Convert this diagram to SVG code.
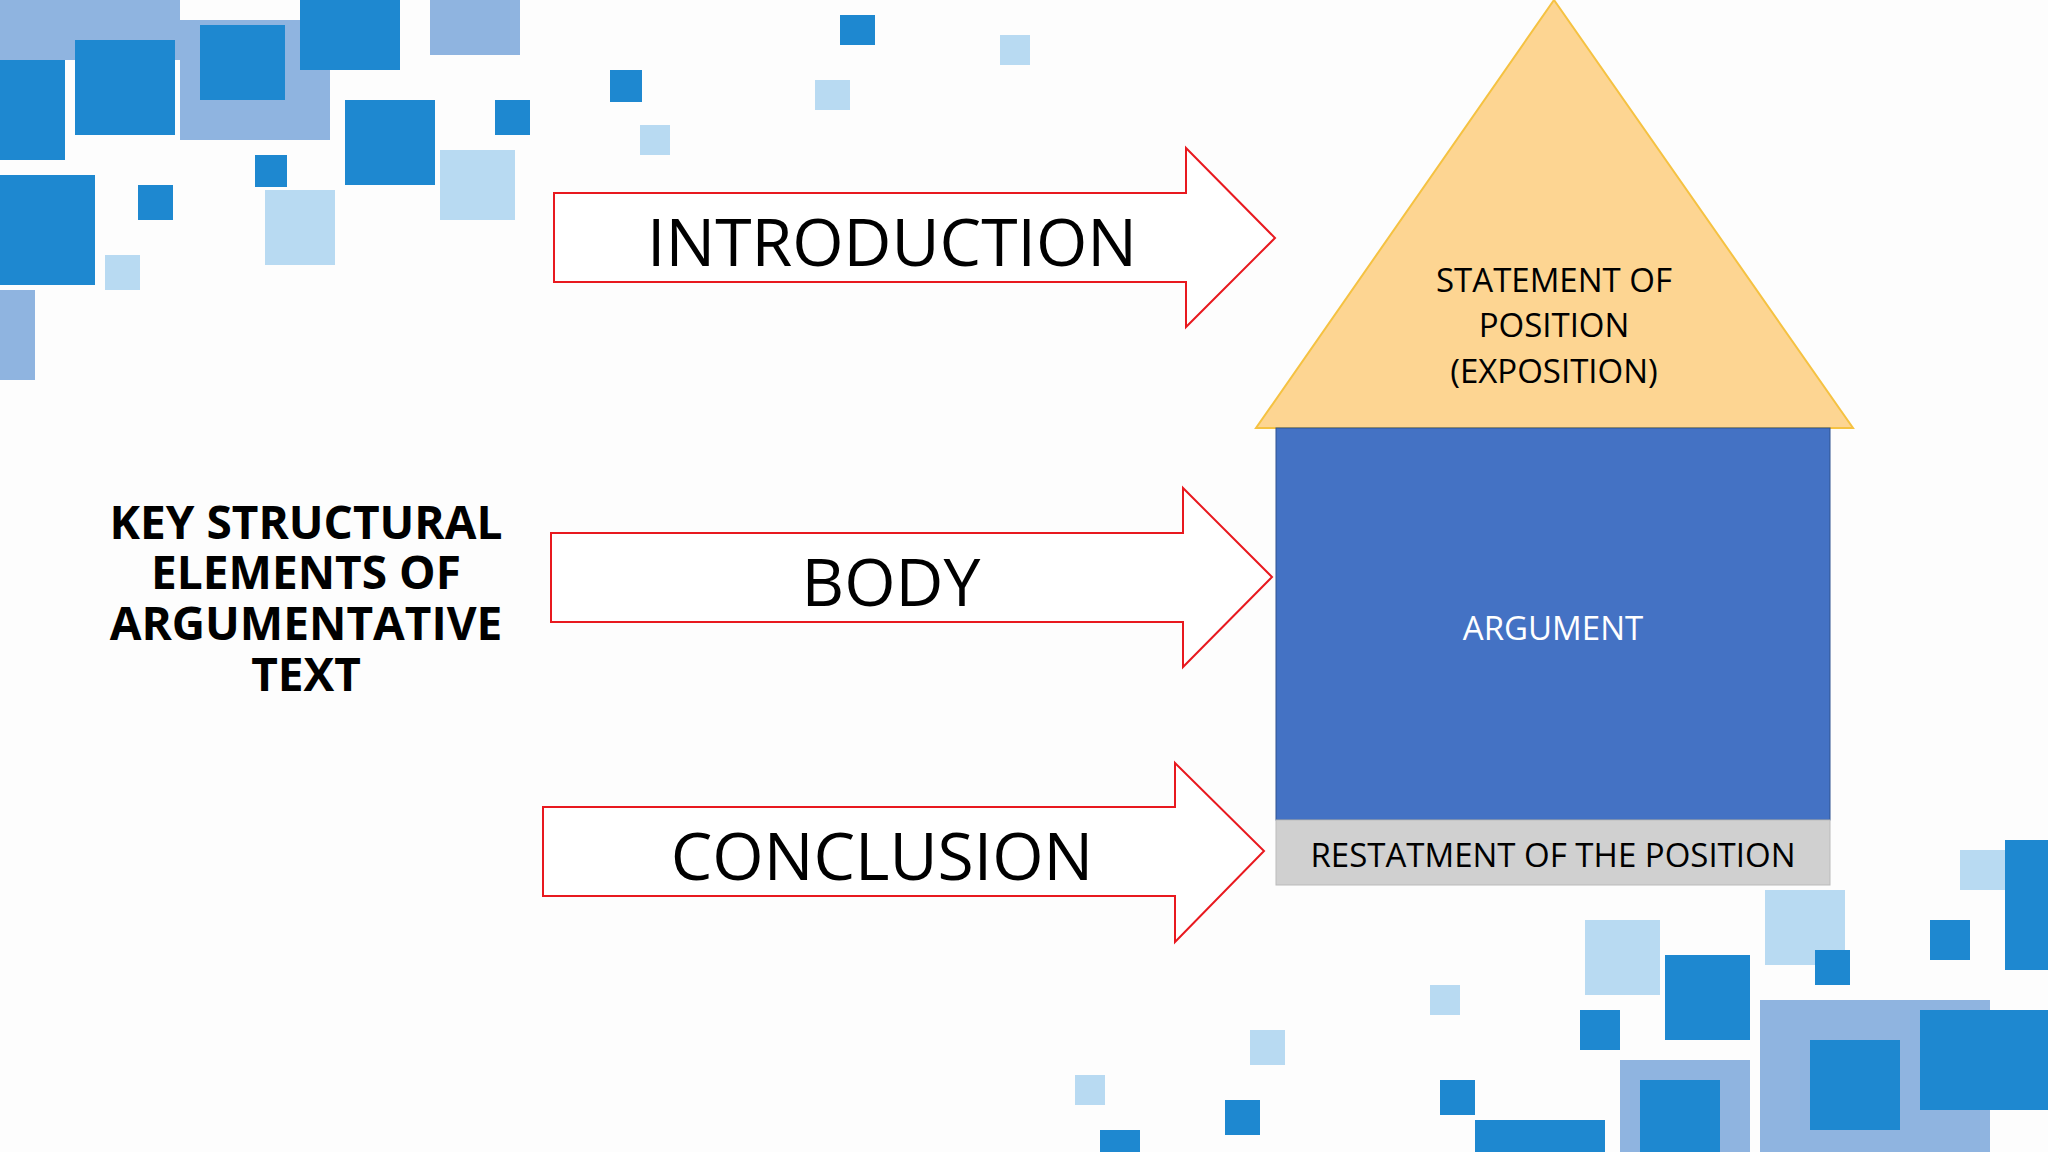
<svg xmlns="http://www.w3.org/2000/svg" width="2048" height="1152" viewBox="0 0 2048 1152">
<style>
.arr{fill:#fff;stroke:#e8191f;stroke-width:2}
.big{font-family:"Open Sans","Noto Sans",sans-serif;font-size:66px;fill:#000;text-anchor:middle}
.sm{font-family:"Open Sans","Noto Sans",sans-serif;font-size:33px;text-anchor:middle}
.ttl{font-family:"Open Sans","Noto Sans",sans-serif;font-size:46px;font-weight:bold;text-anchor:middle;fill:#000}
.d1{fill:#1e88d0}.d2{fill:#8fb4e0}.d3{fill:#b8daf2}
</style>
<rect width="2048" height="1152" fill="#fdfdfd"/>
<g id="decor">
<rect class="d2" x="0" y="0" width="180" height="60"/>
<rect class="d1" x="0" y="60" width="65" height="100"/>
<rect class="d1" x="75" y="40" width="100" height="95"/>
<rect class="d2" x="180" y="20" width="150" height="120"/>
<rect class="d1" x="200" y="25" width="85" height="75"/>
<rect class="d1" x="300" y="0" width="100" height="70"/>
<rect class="d1" x="345" y="100" width="90" height="85"/>
<rect class="d2" x="430" y="0" width="90" height="55"/>
<rect class="d3" x="440" y="150" width="75" height="70"/>
<rect class="d3" x="265" y="190" width="70" height="75"/>
<rect class="d1" x="0" y="175" width="95" height="110"/>
<rect class="d1" x="138" y="185" width="35" height="35"/>
<rect class="d1" x="255" y="155" width="32" height="32"/>
<rect class="d1" x="495" y="100" width="35" height="35"/>
<rect class="d1" x="610" y="70" width="32" height="32"/>
<rect class="d1" x="840" y="15" width="35" height="30"/>
<rect class="d3" x="815" y="80" width="35" height="30"/>
<rect class="d3" x="640" y="125" width="30" height="30"/>
<rect class="d3" x="1000" y="35" width="30" height="30"/>
<rect class="d3" x="105" y="255" width="35" height="35"/>
<rect class="d2" x="0" y="290" width="35" height="90"/>
<rect class="d1" x="2005" y="840" width="43" height="130"/>
<rect class="d3" x="1960" y="850" width="45" height="40"/>
<rect class="d3" x="1765" y="890" width="80" height="75"/>
<rect class="d3" x="1585" y="920" width="75" height="75"/>
<rect class="d1" x="1665" y="955" width="85" height="85"/>
<rect class="d1" x="1930" y="920" width="40" height="40"/>
<rect class="d1" x="1815" y="950" width="35" height="35"/>
<rect class="d1" x="1580" y="1010" width="40" height="40"/>
<rect class="d2" x="1760" y="1000" width="230" height="152"/>
<rect class="d1" x="1810" y="1040" width="90" height="90"/>
<rect class="d1" x="1920" y="1010" width="128" height="100"/>
<rect class="d2" x="1620" y="1060" width="130" height="92"/>
<rect class="d1" x="1640" y="1080" width="80" height="72"/>
<rect class="d1" x="1440" y="1080" width="35" height="35"/>
<rect class="d3" x="1430" y="985" width="30" height="30"/>
<rect class="d3" x="1250" y="1030" width="35" height="35"/>
<rect class="d1" x="1225" y="1100" width="35" height="35"/>
<rect class="d3" x="1075" y="1075" width="30" height="30"/>
<rect class="d1" x="1475" y="1120" width="130" height="32"/>
<rect class="d1" x="1100" y="1130" width="40" height="22"/>
</g>
<g id="intro-arrow">
<polygon class="arr" points="554,193 1186,193 1186,148 1275,238 1186,327 1186,282 554,282"/>
<text class="big" x="892" y="266">INTRODUCTION</text>
</g>
<g id="body-arrow">
<polygon class="arr" points="551,533 1183,533 1183,488 1272,577 1183,667 1183,622 551,622"/>
<text class="big" x="891" y="606">BODY</text>
</g>
<g id="conclusion-arrow">
<polygon class="arr" points="543,807 1175,807 1175,763 1264,851 1175,942 1175,896 543,896"/>
<text class="big" x="882" y="880">CONCLUSION</text>
</g>
<g id="title">
<text class="ttl" x="306" y="539">KEY STRUCTURAL</text>
<text class="ttl" x="306" y="589">ELEMENTS OF</text>
<text class="ttl" x="306" y="640">ARGUMENTATIVE</text>
<text class="ttl" x="306" y="691">TEXT</text>
</g>
<g id="roof">
<polygon points="1554,0 1853,428 1256,428" fill="#fdd592" stroke="#f5c242" stroke-width="2"/>
<text class="sm" x="1554" y="292">STATEMENT OF</text>
<text class="sm" x="1554" y="337">POSITION</text>
<text class="sm" x="1554" y="383">(EXPOSITION)</text>
</g>
<g id="argument">
<rect x="1276" y="428" width="554" height="392" fill="#4472c4" stroke="#2f528f" stroke-width="1"/>
<text class="sm" x="1553" y="640" fill="#fff">ARGUMENT</text>
</g>
<g id="restatement">
<rect x="1276" y="820" width="554" height="65" fill="#d0d0d0" stroke="#bbb" stroke-width="1"/>
<text class="sm" x="1553" y="867">RESTATMENT OF THE POSITION</text>
</g>
<g id="connectors"></g>
</svg>
